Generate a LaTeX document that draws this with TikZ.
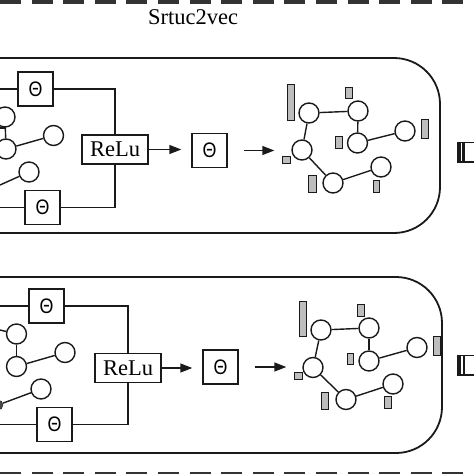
\documentclass[tikz,border=0pt]{standalone}
\usepackage{fontspec}
\usepackage{graphicx}
\setmainfont{Liberation Serif}
\newfontfamily\thetafont{Liberation Sans}
\usetikzlibrary{arrows.meta}
\newcommand\thsym{{\thetafont\fontsize{21}{24}\selectfont\scalebox{0.85}[1]{Θ}}}
\definecolor{linec}{HTML}{1A1A1A}
\definecolor{dashc}{HTML}{333333}
\definecolor{grayfill}{HTML}{BDBDBD}
\tikzset{
  panel/.style={draw=linec, line width=1.8pt, rounded corners=46pt},
  thetabox/.style={draw=linec, line width=1.4pt, minimum width=35pt, minimum height=34pt, inner sep=0pt},
  relubox/.style={draw=linec, line width=1.4pt, minimum width=66pt, minimum height=29pt, inner sep=0pt, font=\fontsize{22.5}{27}\selectfont},
  gnode/.style={circle, draw=linec, line width=1.4pt, minimum size=20pt, inner sep=0pt},
  conn/.style={draw=linec, line width=1.4pt},
  arr/.style={conn, -{Triangle[length=12pt,width=9pt]}},
  grect/.style={draw=linec, fill=grayfill, line width=0.9pt},
  dashline/.style={draw=dashc, line width=4pt, dash pattern=on 21pt off 10.6pt},
}
\begin{document}
\begin{tikzpicture}[x=1pt,y=-1pt]
\useasboundingbox (0,0) rectangle (474,474);
\clip (0,0) rectangle (474,474);
% dashed frame lines
\draw[dashline] (0,1.5) -- (480,1.5);
\draw[dashline] (0,473.5) -- (480,473.5);
% title
\node[font=\fontsize{22.5}{27}\selectfont] (title) at (193,17) {Srtuc2vec};

% ================= top panel =================
\draw[panel] (-60,58) rectangle (440,233);
\node[thetabox] (t1) at (35.5,89) {\thsym};
\node[thetabox] (t2) at (42.5,207.5) {\thsym};
\node[relubox] (relu1) at (115,149.5) {ReLu};
\node[thetabox] (m1) at (209.5,150.5) {\thsym};
\coordinate (t1in) at (0,89);
\coordinate (t2in) at (0,207.5);
\draw[conn] (t1in) -- (t1.west);
\draw[conn] (t2in) -- (t2.west);
\draw[conn] (t1.east) -| (relu1.north);
\draw[conn] (t2.east) -| (relu1.south);
\draw[arr, shorten >=10pt] (relu1.east) -- (relu1.east -| m1.west);
% left graph
\node[gnode] (la) at (5,117) {};
\node[gnode] (lb) at (6,149) {};
\node[gnode] (lc) at (53.5,135.5) {};
\node[gnode] (ld) at (29,172) {};
\coordinate (lst) at (0,128);
\coordinate (lsj) at (5.5,128);
\coordinate (ldin) at (0,185);
\draw[conn] (la) -- (lb);
\draw[conn] (lst) -- (lsj);
\draw[conn] (lb) -- (lc);
\draw[conn] (ldin) -- (ld);
% right graph
\node[gnode] (ra) at (309,113) {};
\node[gnode] (rb) at (358,111) {};
\node[gnode] (rc) at (357.5,143) {};
\node[gnode] (rd) at (405,131) {};
\node[gnode] (re) at (302,150) {};
\node[gnode] (rf) at (333,183) {};
\node[gnode] (rg) at (381,167) {};
\draw[conn] (ra) -- (rb);
\draw[conn] (rb) -- (rc);
\draw[conn] (rc) -- (rd);
\draw[conn] (ra) -- (re);
\draw[conn] (re) -- (rf);
\draw[conn] (rf) -- (rg);
\draw[arr, shorten <=16pt, shorten >=17pt] (m1.east) -- (m1.east -| re.west);
% gray bars
\draw[grect] (287,84) rectangle (294,120);
\draw[grect] (345,87) rectangle (352,98);
\draw[grect] (335,136) rectangle (342,148);
\draw[grect] (421,119) rectangle (428,138);
\draw[grect] (282,156) rectangle (290,163);
\draw[grect] (308,175) rectangle (316,192);
\draw[grect] (373,180) rectangle (379,192);
% cropped object at right
\draw[draw=linec, line width=1.3pt] (457.5,142.5) rectangle (490,162);
\fill[linec] (457,142) rectangle (460.5,162.5);
\fill[linec] (462,142) rectangle (464.5,162.5);

% ================= bottom panel =================
\draw[panel] (-60,277) rectangle (442,453);
\node[thetabox] (u1) at (46.5,306) {\thsym};
\node[thetabox] (u2) at (54.5,424.5) {\thsym};
\node[relubox] (relu2) at (128,368) {ReLu};
\node[thetabox] (m2) at (220.5,367) {\thsym};
\coordinate (u1in) at (0,306);
\coordinate (u2in) at (0,424.5);
\draw[conn] (u1in) -- (u1.west);
\draw[conn] (u2in) -- (u2.west);
\draw[conn] (u1.east) -| (relu2.north);
\draw[conn] (u2.east) -| (relu2.south);
\draw[arr, shorten >=10pt] (relu2.east) -- (relu2.east -| m2.west);
% left graph
\node[gnode] (pa) at (16.5,334) {};
\node[gnode] (pb) at (16.5,366.5) {};
\node[gnode] (pc) at (65,352.5) {};
\node[gnode] (pd) at (41,389) {};
\node[circle, fill=linec!80, draw=linec, minimum size=10pt, inner sep=0pt] (pe) at (-2,405) {};
\coordinate (pain) at (0,330);
\draw[conn] (pain) -- (pa);
\draw[conn] (pa) -- (pb);
\draw[conn] (pb) -- (pc);
\draw[conn] (pe) -- (pd);
% right graph
\node[gnode] (qa) at (321,330) {};
\node[gnode] (qb) at (369,328) {};
\node[gnode] (qc) at (369,361) {};
\node[gnode] (qd) at (417,347.5) {};
\node[gnode] (qe) at (313,367.5) {};
\node[gnode] (qf) at (346,399.5) {};
\node[gnode] (qg) at (393,384) {};
\draw[conn] (qa) -- (qb);
\draw[conn] (qb) -- (qc);
\draw[conn] (qc) -- (qd);
\draw[conn] (qa) -- (qe);
\draw[conn] (qe) -- (qf);
\draw[conn] (qf) -- (qg);
\draw[arr, shorten <=16pt, shorten >=16pt] (m2.east) -- (m2.east -| qe.west);
% gray bars
\draw[grect] (299,301) rectangle (306,336);
\draw[grect] (357,304) rectangle (364,316);
\draw[grect] (347,353) rectangle (353,364);
\draw[grect] (433,336) rectangle (440,355);
\draw[grect] (294,372) rectangle (302,379);
\draw[grect] (321,392) rectangle (328,409);
\draw[grect] (384,396) rectangle (391,408);
% cropped object at right
\draw[draw=linec, line width=1.3pt] (457.5,355.5) rectangle (490,375);
\fill[linec] (457,355) rectangle (461,375.5);
\fill[linec] (462.5,355) rectangle (464.5,375.5);
\end{tikzpicture}
\end{document}
